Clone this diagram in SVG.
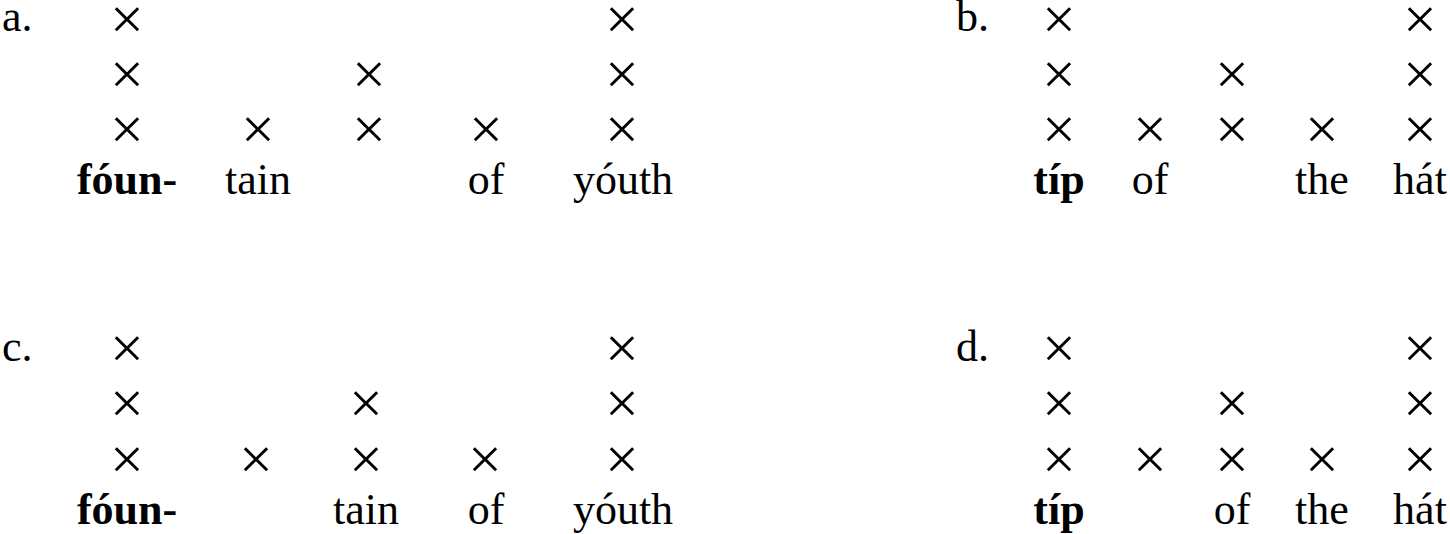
<svg xmlns="http://www.w3.org/2000/svg" width="1450" height="534" viewBox="0 0 1450 534">
<style>
text{font-family:"Liberation Serif","Times New Roman",serif;font-size:44px;fill:#000}
.m{text-anchor:middle}
.b{font-weight:bold}
.x{text-anchor:middle;font-size:60px}
</style>
<rect width="1450" height="534" fill="#fff"/>
<g id="ex-a">
<text x="2" y="31">a.</text>
<text x="127" y="38.5" class="x">×</text><text x="127" y="93.5" class="x">×</text><text x="127" y="148.5" class="x">×</text>
<text x="258" y="148.5" class="x">×</text>
<text x="369" y="93.5" class="x">×</text><text x="369" y="148.5" class="x">×</text>
<text x="486" y="148.5" class="x">×</text>
<text x="622" y="38.5" class="x">×</text><text x="622" y="93.5" class="x">×</text><text x="622" y="148.5" class="x">×</text>
<text x="127" y="194" class="m b">fóun-</text>
<text x="258" y="194" class="m">tain</text>
<text x="486" y="194" class="m">of</text>
<text x="623" y="194" class="m">yóuth</text>
</g>
<g id="ex-b">
<text x="956" y="31">b.</text>
<text x="1059" y="38.5" class="x">×</text><text x="1059" y="93.5" class="x">×</text><text x="1059" y="148.5" class="x">×</text>
<text x="1150" y="148.5" class="x">×</text>
<text x="1232" y="93.5" class="x">×</text><text x="1232" y="148.5" class="x">×</text>
<text x="1322" y="148.5" class="x">×</text>
<text x="1420" y="38.5" class="x">×</text><text x="1420" y="93.5" class="x">×</text><text x="1420" y="148.5" class="x">×</text>
<text x="1059" y="194" class="m b">típ</text>
<text x="1150" y="194" class="m">of</text>
<text x="1322" y="194" class="m">the</text>
<text x="1420" y="194" class="m">hát</text>
</g>
<g id="ex-c">
<text x="2" y="361">c.</text>
<text x="127" y="367.5" class="x">×</text><text x="127" y="423" class="x">×</text><text x="127" y="478.5" class="x">×</text>
<text x="256" y="478.5" class="x">×</text>
<text x="366" y="423" class="x">×</text><text x="366" y="478.5" class="x">×</text>
<text x="485" y="478.5" class="x">×</text>
<text x="622" y="367.5" class="x">×</text><text x="622" y="423" class="x">×</text><text x="622" y="478.5" class="x">×</text>
<text x="127" y="524" class="m b">fóun-</text>
<text x="366" y="524" class="m">tain</text>
<text x="486" y="524" class="m">of</text>
<text x="623" y="524" class="m">yóuth</text>
</g>
<g id="ex-d">
<text x="956" y="361">d.</text>
<text x="1059" y="367.5" class="x">×</text><text x="1059" y="423" class="x">×</text><text x="1059" y="478.5" class="x">×</text>
<text x="1150" y="478.5" class="x">×</text>
<text x="1232" y="423" class="x">×</text><text x="1232" y="478.5" class="x">×</text>
<text x="1322" y="478.5" class="x">×</text>
<text x="1420" y="367.5" class="x">×</text><text x="1420" y="423" class="x">×</text><text x="1420" y="478.5" class="x">×</text>
<text x="1059" y="524" class="m b">típ</text>
<text x="1232" y="524" class="m">of</text>
<text x="1322" y="524" class="m">the</text>
<text x="1420" y="524" class="m">hát</text>
</g>
<g id="connectors"/>
</svg>
